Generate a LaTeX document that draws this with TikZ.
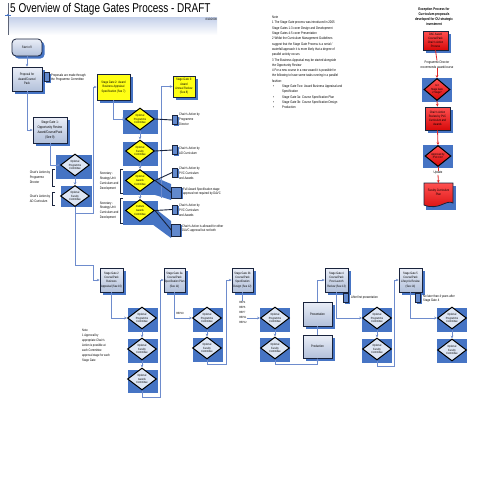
\documentclass[tikz,border=0pt]{standalone}
\usepackage{fontspec}
\setmainfont{Liberation Sans}[FakeStretch=0.78]
\usetikzlibrary{shapes.geometric,arrows.meta,shadows}
\definecolor{bluebg}{RGB}{70,116,196}
\definecolor{navy}{RGB}{25,35,60}
\definecolor{connc}{RGB}{110,140,205}
\definecolor{boxtop}{RGB}{234,238,247}
\definecolor{boxbot}{RGB}{178,192,218}
\definecolor{ylw}{RGB}{255,255,20}
\definecolor{redtop}{RGB}{255,80,80}
\definecolor{redbot}{RGB}{215,10,10}
\definecolor{redline}{RGB}{225,40,40}
\definecolor{diamfill}{RGB}{222,230,244}
\definecolor{hdr}{RGB}{196,208,234}
\newcommand{\nbul}{\hspace*{1pt}\makebox[9pt][l]{\textbullet}}
\newcommand{\nind}{\hspace*{10pt}}
\tikzset{
 shd/.style={drop shadow={shadow xshift=2.5pt,shadow yshift=-2.5pt,fill=bluebg,opacity=1}},
 gbox/.style={shd,draw=navy,line width=0.8pt,top color=boxtop,bottom color=boxbot,align=center,inner sep=0.3pt,font=\fontsize{3.2}{4.2}\selectfont},
 ybox/.style={shd,draw=navy,line width=0.8pt,fill=ylw,align=center,inner sep=0.3pt,font=\fontsize{3.3}{4.3}\selectfont},
 rbox/.style={shd,draw=navy,line width=0.8pt,top color=redtop,bottom color=redbot,align=center,inner sep=0.3pt,font=\fontsize{3.2}{4.1}\selectfont},
 dia/.style={diamond,draw=black,line width=1pt,align=center,inner sep=0pt,minimum width=29pt,minimum height=22pt,font=\fontsize{3}{3.7}\selectfont},
 ydia/.style={dia,fill=ylw},
 wdia/.style={dia,fill=diamfill},
 rdia/.style={dia,top color=redtop,bottom color=redbot,minimum width=26pt,minimum height=21pt},
 cline/.style={draw=connc,line width=0.9pt},
 arr/.style={cline,-{Stealth[length=2.8pt,width=2.6pt]}},
 rline/.style={draw=redline,line width=0.8pt},
 rarr/.style={rline,-{Stealth[length=2.8pt,width=2.6pt]}},
 small/.style={font=\fontsize{3.5}{4.8}\selectfont,align=left,inner sep=0pt},
 docic/.style={drop shadow={shadow xshift=1.2pt,shadow yshift=-1.2pt,fill=bluebg,opacity=1},rectangle,draw=navy,fill=bluebg!85!white,line width=0.5pt,minimum width=5pt,minimum height=9pt,inner sep=0pt},
 brk/.style={draw=navy,line width=0.9pt},
 thk/.style={draw=navy,line width=0.9pt}
}
\begin{document}
\begin{tikzpicture}[x=1pt,y=-1pt]
\useasboundingbox (0,0) rectangle (480,480);
\fill[white] (0,0) rectangle (480,480);
% header
\shade[top color=hdr,bottom color=white] (8,17) rectangle (217,35);
\draw[navy!70,line width=0.5pt] (8,3) -- (8,35);
\draw[bluebg,line width=0.5pt] (5,15) -- (11,15);
\fill[bluebg] (8,15) circle (1.1pt);
\node[anchor=west,font=\fontsize{12.8}{14}\selectfont,inner sep=0pt] (title) at (10,9.5) {5 Overview of Stage Gates Process - DRAFT};
\node[anchor=east,font=\fontsize{3.2}{4}\selectfont,inner sep=0pt] (date) at (217,19.5) {8/10/2009};
% notes
\node[anchor=north west,font=\fontsize{3.6}{5.3}\selectfont,align=left,inner sep=0pt] (notes) at (272,16) {Note\\
1 The Stage Gate process was introduced in 2005\\
Stage Gates 1-3 cover Design and Development\\
Stage Gates 4-5 cover Presentation\\
2 Whilst the Curriculum Management Guidelines\\
suggest that the Stage Gate Process is a serial /\\
waterfall approach it is more likely that a degree of\\
parallel activity occurs\\
3 The Business Appraisal may be started alongside\\
the Opportunity Review\\
4 For a new course in a new award it is possible for\\
the following to have some tasks running in a parallel\\
fashion:\\
\nbul Stage Gate Two: Award Business Appraisal and\\
\nind Specification\\
\nbul Stage Gate 3a: Course Specification Plan\\
\nbul Stage Gate 3b: Course Specification Design\\
\nbul Production};
% left column
\node[gbox,rounded corners=4pt,minimum width=30pt,minimum height=17pt,font=\fontsize{3.4}{4.4}\selectfont] (start) at (27,47.5) {Start of I};
\node[gbox,minimum width=30pt,minimum height=24pt,font=\fontsize{3.4}{4.4}\selectfont] (prop) at (27,79) {Proposal for\\Award/Course/\\Pack};
\node[docic] (ic0) at (47,77) {};
\node[small,anchor=west] (t0) at (51,77.5) {Proposals are made through\\the Programme Committee};
\draw[arr] (start) -- (prop);
\node[gbox,minimum width=34pt,minimum height=26pt,font=\fontsize{3.6}{4.8}\selectfont] (sg1) at (50,130) {Stage Gate 1:\\Opportunity Review\\Award/Course/Pack\\(See 9)};
\draw[arr] (prop.south) |- (sg1.west);
\fill[bluebg] (56,155) rectangle (92,179);
\node[wdia] (lp) at (75,165) {Optional\\Programme\\Committee};
\fill[bluebg] (61,186) rectangle (92,207);
\node[wdia,minimum height=21pt] (lf) at (75,196) {Optional\\Faculty\\Committee};
\draw[arr] (sg1.south) |- (lp.west);
\draw[arr] (lp.south) -- (lf.north);
\draw[brk] (55,169) -- (52.5,169) -- (52.5,186) -- (55,186);
\node[small,anchor=east] (tl1) at (50.5,177.5) {Chair's Action by\\Programme\\Director};
\draw[brk] (55,192) -- (52.5,192) -- (52.5,205) -- (55,205);
\node[small,anchor=east] (tl2) at (50.5,198.5) {Chair's Action by\\AD Curriculum};
% award gates (yellow)
\node[ybox,minimum width=33pt,minimum height=26pt] (ysg2) at (113.5,87) {Stage Gate 2: Award\\Business Appraisal\\Specification (See 7)};
\node[ybox,minimum width=22pt,minimum height=21pt] (ysg3) at (184,86.5) {Stage Gate 3:\\Award\\Annual Review\\(See 8)};
\coordinate (j1) at (75,213);
\coordinate (j3) at (93,87);
\coordinate (b1) at (93,265);
\draw[arr] (j1) -| (j3) -- (ysg2.west);
% blue bands
\fill[bluebg] (152,176) -- (171,184) -- (171,200) -- (152,194) -- cycle;
\fill[bluebg] (152,206) -- (171,221) -- (171,238) -- (152,224) -- cycle;
\fill[bluebg] (123,109.5) rectangle (157.5,133.5);
\node[ydia] (yd1) at (140,119) {Optional\\Programme\\Committee};
\fill[bluebg] (123,141.5) rectangle (157.5,165.5);
\node[ydia] (yd2) at (140,151) {Optional\\Faculty\\Committee};
\fill[bluebg] (123,171) rectangle (157.5,195);
\node[ydia] (yd3) at (140,180.5) {Optional\\Awards\\Committee};
\fill[bluebg] (123,201) rectangle (157.5,225);
\node[ydia] (yd4) at (140,210.5) {Institute\\Awards\\Committee};
\draw[arr] (ysg2.south) |- (yd1.west);
\draw[arr] (yd1.south) -- (yd2.north);
\draw[arr] (yd2.south) -- (yd3.north);
\draw[arr] (yd3.south) -- (yd4.north);
\coordinate (r1) at (161,198);
\draw[arr] (r1) |- (ysg3.west);
% icons right of yellow diamonds
\node[docic] (ic1) at (175,120) {};
\node[small,anchor=west] (t1) at (179,119.5) {Chair's Action by\\Programme\\Director};
\node[docic] (ic2) at (175,150) {};
\node[small,anchor=west] (t2) at (179,150.5) {Chair's Action by\\AD Curriculum};
\node[docic] (ic3) at (175,172.5) {};
\node[small,anchor=west] (t3) at (179,173) {Chair's Action by\\PVC Curriculum\\and Awards};
\node[docic,minimum width=10pt,minimum height=11pt] (ic4) at (176.5,192.5) {};
\node[small,anchor=west] (t4) at (183,191.5) {Full Award Specification stage\\approval not required by DAVC};
\node[docic] (ic5) at (175,209.5) {};
\node[small,anchor=west] (t5) at (179,210) {Chair's Action by\\PVC Curriculum\\and Awards};
\node[docic,minimum width=9pt,minimum height=12pt] (ic6) at (176,230) {};
\node[small,anchor=west] (t6) at (182,228.5) {Chair's Action is allowed for either\\DAVC approval but not both};
\draw[thk] (yd1.east) -- (ic1.west);
\draw[thk] (yd2.east) -- (ic2.west);
\draw[thk] (yd3.east) -- (ic3.west);
\draw[thk] (yd3.east) -- (ic4.west);
\draw[thk] (yd4.east) -- (ic5.west);
\draw[thk] (yd4.east) -- (ic6.west);
% secretary brackets
\draw[brk] (123,169) -- (120.5,169) -- (120.5,193) -- (123,193);
\node[small,anchor=east] (ts1) at (118.5,181) {Secretary -\\Strategy Unit\\Curriculum and\\Development};
\draw[brk] (123,198) -- (120.5,198) -- (120.5,223) -- (123,223);
\node[small,anchor=east] (ts2) at (118.5,210.5) {Secretary -\\Strategy Unit\\Curriculum and\\Development};
% exception process (red)
\node[font=\bfseries\fontsize{3.8}{5}\selectfont,align=center,inner sep=0pt] (ext) at (434,17) {Exception Process for\\Curriculum proposals\\developed for OU strategic\\investment};
\node[rbox,minimum width=25pt,minimum height=19pt] (rb1) at (435.5,40.5) {DAC Award\\Course/Pack\\Chair's Action\\Process};
\node[small,align=center] (pdr) at (437,64.5) {Programme Director\\recommends award/course};
\fill[bluebg] (422,78) rectangle (452,102);
\node[rdia] (rd1) at (437,89.5) {Is it\\Stage Gate\\2 Stage?};
\node[rbox,minimum width=25pt,minimum height=23pt] (rb2) at (437.5,118.5) {Chair's Action\\Review by PVC\\Curriculum and\\Awards};
\fill[bluebg] (423,145) rectangle (453,168);
\node[rdia] (rd2) at (438,156) {Approved by\\PVC CA?};
\node[small,align=center] (upd) at (438,173) {Update};
\fill[bluebg] (426,186) rectangle (456,210);
\draw[navy,line width=0.8pt,top color=redtop,bottom color=redbot] (424,183) -- (453,183) -- (453,203) .. controls (446,199) and (439,211) .. (424,205) -- cycle;
\node[font=\fontsize{3.3}{4.3}\selectfont,align=center,inner sep=0pt] (fcp) at (438.5,192.5) {Faculty Curriculum\\Plan};
\coordinate (fcptop) at (438.5,183);
\draw[rline] (rb1.south) -- (pdr.north);
\draw[rarr] (pdr.south) -- (rd1.north);
\draw[rarr] (rd1.south) -- (rb2.north);
\draw[rarr] (rb2.south) -- (rd2.north);
\draw[rline] (rd2.south) -- (upd.north);
\draw[rarr] (upd.south) -- (fcptop);
% course/pack gates (bottom row)
\node[gbox,minimum width=23pt,minimum height=24pt] (sg2c) at (111.5,280) {Stage Gate 2\\Course/Pack\\Business\\Appraisal (See 10)};
\draw[arr] (lf.south) |- (b1) |- (sg2c.west);
\fill[bluebg] (128,308) rectangle (158,332);
\node[wdia] (bd1p) at (142,318) {Optional\\Programme\\Committee};
\fill[bluebg] (128,339) rectangle (158,363);
\node[wdia] (bd1f) at (142,349) {Optional\\Faculty\\Committee};
\fill[bluebg] (128,370) rectangle (158,393);
\node[wdia] (bd1a) at (142,379) {Optional\\Awards\\Committee};
\draw[arr] (sg2c.south) |- (bd1p.west);
\draw[arr] (bd1p.south) -- (bd1f.north);
\draw[arr] (bd1f.south) -- (bd1a.north);
\node[gbox,minimum width=21pt,minimum height=24pt] (sg3a) at (174.5,280) {Stage Gate 3a\\Course/Pack\\Specification Plan\\(See 11)};
\coordinate (k1) at (160,397);
\draw[arr] (bd1a.south) |- (k1) |- (sg3a.west);
\node[anchor=north west,font=\fontsize{3.4}{5}\selectfont,align=left,inner sep=0pt] (note2) at (82,329) {Note\\1 Approval by\\appropriate Chair's\\Action is possible at\\each Committee\\approval stage for each\\Stage Gate};
\fill[bluebg] (193,308) rectangle (223,332);
\node[wdia] (bd2p) at (207,318) {Optional\\Programme\\Committee};
\fill[bluebg] (193,338) rectangle (223,362);
\node[wdia] (bd2f) at (207,348) {Optional\\Faculty\\Committee};
\draw[arr] (sg3a.south) |- (bd2p.west);
\node[font=\fontsize{3}{4}\selectfont,inner sep=0pt] (rep10) at (180,313) {REP10};
\draw[arr] (bd2p.south) -- (bd2f.north);
\node[gbox,minimum width=21pt,minimum height=24pt] (sg3b) at (242.5,280) {Stage Gate 3b\\Course/Pack\\Specification\\Design (See 12)};
\coordinate (k2) at (226,364);
\draw[arr] (bd2f.south) |- (k2) |- (sg3b.west);
\node[font=\fontsize{3}{5.2}\selectfont,align=left,inner sep=0pt] (reps) at (243,312.5) {REP4\\REP6\\REP7\\REP11\\REP12};
\draw[cline] (sg3b.south) -- (reps.north -| sg3b.south);
\fill[bluebg] (260,308) rectangle (290,332);
\node[wdia] (bd3p) at (275,318) {Optional\\Programme\\Committee};
\fill[bluebg] (260,338) rectangle (290,362);
\node[wdia] (bd3f) at (275,348) {Optional\\Faculty\\Committee};
\draw[arr] (reps.east |- bd3p.west) -- (bd3p.west);
\draw[arr] (bd3p.south) -- (bd3f.north);
\node[gbox,minimum width=29pt,minimum height=24pt,font=\fontsize{3.4}{4.4}\selectfont] (pres) at (317.5,314) {Presentation};
\node[gbox,minimum width=29pt,minimum height=23pt,font=\fontsize{3.4}{4.4}\selectfont] (prod) at (317.5,346.5) {Production};
\draw[cline] (pres.south) -- (prod.north);
\coordinate (k3) at (317.5,364);
\draw[arr] (bd3f.south) |- (k3) -- (prod.south);
\node[gbox,minimum width=23pt,minimum height=24pt] (sg4) at (336.5,280) {Stage Gate 4\\Course/Pack\\Post Launch\\Review (See 13)};
\draw[arr] (pres.north) |- (sg4.west);
\node[docic] (ic7) at (346,298) {};
\node[small,anchor=west] (t7) at (351,298) {After first presentation};
\fill[bluebg] (362,308) rectangle (392,332);
\node[wdia] (bd4p) at (377,318) {Optional\\Programme\\Committee};
\fill[bluebg] (362,339) rectangle (392,363);
\node[wdia] (bd4f) at (377,349) {Optional\\Faculty\\Committee};
\draw[arr] (sg4.south) |- (bd4p.west);
\draw[arr] (bd4p.south) -- (bd4f.north);
\node[gbox,minimum width=23pt,minimum height=24pt] (sg5) at (410.5,280) {Stage Gate 5\\Course/Pack\\Lifecycle Review\\(See 14)};
\coordinate (k4) at (394,366);
\draw[arr] (bd4f.south) |- (k4) |- (sg5.west);
\node[docic] (ic8) at (418,298) {};
\node[small,anchor=west] (t8) at (423,298.5) {No later than 4 years after\\Stage Gate 4};
\fill[bluebg] (437,308) rectangle (467,332);
\node[wdia] (bd5p) at (452,318) {Optional\\Programme\\Committee};
\fill[bluebg] (437,339) rectangle (467,363);
\node[wdia] (bd5f) at (452,350) {Optional\\Faculty\\Committee};
\draw[arr] (sg5.south) |- (bd5p.west);
\draw[arr] (bd5p.south) -- (bd5f.north);
\end{tikzpicture}
\end{document}
